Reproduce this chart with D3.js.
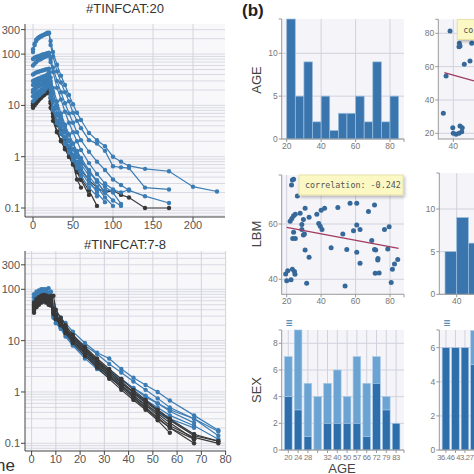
<!DOCTYPE html>
<html><head><meta charset="utf-8">
<script src="https://cdn.jsdelivr.net/npm/d3@7"></script>
<style>html,body{margin:0;padding:0;background:#fff;overflow:hidden}</style>
</head><body><svg id="c" width="474" height="474" font-family="Liberation Sans, Arial, sans-serif"></svg>
<script>
// ---------- DATA ----------
const pk20Times = [0,2,4,6,8,10,12,14,16,18,20,22,25,30,35,40,45,50,55,60,70,80,90,100,110,120,140,170,200,230];
const pk20Blue = [
 [110,150,180,200,210,220,230,240,250,260,262,180,110,62,38,25,16,10.5,7.2,5.2,2.9,2.1,1.6,1.0,0.8,0.66,0.58,0.52,0.26,0.21],
 [125,160,190,205,215,225,232,238,245,250,255,150,90,46,28,18,12,7.2,5,3.6,2.1,1.8,1.3,0.65,0.62,0.6,0.25,0.23],
 [80,85,88,90,92,95,98,100,102,104,106,80,55,30,18,11,7,4.6,3,2.1,1.25,0.8,0.55,0.36,0.28,0.22,0.17,0.125],
 [60,65,70,75,78,80,84,88,90,92,95,70,45,22,13,7.5,4.6,3,2,1.35,0.75,0.46,0.3,0.23,0.2,0.23],
 [40,42,44,45,46,47,48,49,50,51,52,35,22,12,7,4.2,2.7,1.8,1.2,0.85,0.52,0.32,0.2,0.14,0.11],
 [30,31,32,33,34,35,36,37,38,39,40,27,17,9,5.5,3.3,2.1,1.4,1,0.72,0.42,0.26,0.16,0.11],
 [25,26,27,28,29,30,31,32,33,34,35,22,13,6.5,3.8,2.4,1.6,1.1,0.8,0.6,0.35,0.2,0.13],
 [20,21,22,23,24,25,26,27,28,29,30,20,12,7,4.5,3,2,1.4,1,0.8,0.5,0.35,0.26,0.2,0.12],
 [15,16,17,18,19,20,21,22,24,26,28,16,9,5,3,1.9,1.3,0.95,0.7,0.5,0.3,0.22,0.22,0.22],
 [12,13,14,15,16,17,18,19,21,23,25,14,8,4.5,2.8,1.8,1.2,0.85,0.6,0.42,0.25,0.17],
 [18,20,22,24,26,28,30,33,36,40,45,30,18,10,6,4,2.7,1.8,1.3,0.95,0.55,0.33,0.2]
];
const pk20Dark = [
 [10,11,12,13,14,15,16,17,18,20,22,12,7,4.2,2.8,1.9,1.2,0.8,0.55,0.38,0.22,0.11],
 [10,11,12,13,14,15,16,17,18,19,20,11,6,3.1,2.1,1.5,1.0,0.75,0.36,0.25],
 [11,12,13,14,15,16,17,18,19,20,22,14,8,5,3.2,2.1,1.5,1.0,0.75,0.55,0.35,0.25,0.2,0.22,0.18,0.16,0.1,0.1],
 [9,10,11,12,13,14,15,16,17,17.5,18,9,5,3,2,1.4,1,0.7,0.5,0.35,0.18]
];
const pk78Times = [1,2,3,4,5,6,7,8,9,10,12,14,17,22,27,32,37,42,47,52,57,67,77];
const pk78Blue = [
 [80,90,95,100,98,100,105,90,50,35,28,22,15,9,5.8,4.5,2.8,1.9,1.37,1.0,0.68,0.35,0.18],
 [60,70,80,85,90,95,80,70,40,30,24,18,12,8,5.5,3.5,2.4,1.6,1.1,0.75,0.5,0.3,0.17],
 [50,60,70,80,85,70,60,50,35,26,20,16,11,6.5,4,2.6,1.8,1.2,0.8,0.6,0.45,0.3,0.14],
 [45,55,65,75,80,75,70,60,30,22,18,14,9.5,5.5,3.5,2.3,1.5,1.0,0.7,0.5,0.35,0.22,0.12],
 [70,80,90,95,100,95,85,75,45,28,20,15,10,6,3.8,2.5,1.7,1.2,0.85,0.6,0.42,0.25],
 [55,65,75,80,85,80,70,60,32,25,18,13,8.5,5,3.2,2,1.3,0.9,0.65,0.45,0.3,0.2],
 [40,50,60,70,75,70,60,50,28,22,17,12,8,4.5,2.8,1.9,1.3,0.85,0.55,0.4,0.28,0.15]
];
const pk78Dark = [
 [35,45,55,60,65,70,72,74,75,40,28,20,13,7.5,4.5,2.8,1.8,1.1,0.7,0.45,0.3,0.15,0.11],
 [45,50,55,60,62,60,58,55,40,30,22,17,12,7,4,2.4,1.5,0.95,0.6,0.38,0.25,0.12],
 [38,45,50,55,58,55,50,48,35,27,21,15,10,5.5,3.2,2,1.2,0.75,0.48,0.3,0.2,0.1],
 [50,60,65,70,72,70,65,60,38,30,23,17,11,6.5,3.8,2.2,1.4,0.85,0.55,0.35,0.22,0.13,0.1],
 [42,48,52,58,60,58,55,50,33,26,20,14,9,5,3,1.8,1.1,0.7,0.45,0.28,0.16],
 [55,65,70,75,78,76,72,68,42,32,24,18,12,7,4.2,2.6,1.6,1.0,0.65,0.42,0.28,0.14,0.11],
 [48,55,60,65,68,66,62,58,36,28,21,16,10,6,3.5,2.1,1.3,0.8,0.5,0.32,0.2,0.12]
];
const logTicks = [0.1,1,10,100,300];
const pk20XTicks = [0,50,100,150,200];
const pk78XTicks = [0,10,20,30,40,50,60,70,80];

const ageBins = [20,25,30,35,40,45,50,55,60,65,70,75,80];
const ageCounts = [14,5,9,2,5,1,3,3,5,2,9,2,5];
const ageTicks = [20,40,60,80];
const histYTicks = [0,5,10];

const lbmAge = [23.3,24,22.8,26.2,22,23,24,25,24,23.5,25,27.8,28.8,29.7,30.7,28.8,29.7,30.3,30.7,33,31.6,33,37.5,40,42,38.6,39.5,40.5,45.8,49.7,52.6,54.9,53.9,56.8,60.7,58.8,60.7,62.6,60.7,62.6,67.5,71,69.4,71,71.7,72.9,73,71.4,73.7,76.8,79.5,78.7,80.7,81.4,82.6,84.5,19.4,20.6,20,22.5,23.3,24.5,24.8];
const lbmVal = [75.9,76.2,74.1,70.1,61,62,63,63.5,57,54.8,54.8,63.9,59.8,61.6,65.7,58,56,56.4,50.6,48,38.6,62.4,63.5,65,65.7,60.2,59.2,58,51.4,66,56.4,50.8,37.6,67.5,67.5,57.6,59.6,58,49.8,45.8,64.5,66.9,54,50.8,50.6,47,47.5,42.2,42.3,58,59,51,38.8,43.6,45.5,47.2,41.9,43.1,39.5,39.8,43.6,42.8,41.8];
const lbmReg = [[20,58.8],[85,51.2]];
const lbmYTicks = [40,60];
const corrText = "correlation: -0.242";

const sexLabels = ["20","24","28","","32","40","50","57","66","72","79","83"];
const sexDark = [4,3,1,0,2,2,2,2,1,5,3,2];
const sexTotal = [7,9,5,4,5,6,4,7,5,7,4,2];
const sexYTicks = [0,2,4,6,8];

const sc2X = [38.1,43.5,43.9,43.3,50.7,46.4,49.7,35.8,34.2,39.7,40,43.9,45.2,43.3,44.9,41.6];
const sc2Y = [81.4,74,72.4,72,74,61.4,63.4,54.4,32,23.4,20,24.4,23.4,20,21,19.4];
const sc2Reg = [[34.8,56.4],[52,51.4]];
const sc2YTicks = [20,40,60,80];
const sc2XTicks = [40];
const hist2Bins = [35,40,45];
const hist2Counts = [5,9,6];
const hist2XTicks = [40];
const bar2Labels = ["36.46","","43.27",""];
const bar2Dark = [6,6,6,5];
const bar2Total = [6,6,6,7];
const bar2YTicks = [0,2,4,6];

// ---------- DRAW ----------
const svg = d3.select('#c');
svg.append('rect').attr('width',474).attr('height',474).attr('fill','#fff');
const defs = svg.append('defs');
const f = defs.append('filter').attr('id','sh').attr('x','-10%').attr('y','-20%').attr('width','130%').attr('height','160%');
f.append('feDropShadow').attr('dx',1.5).attr('dy',2).attr('stdDeviation',1.5).attr('flood-color','#000').attr('flood-opacity',0.25);

const BLUE='#3b7cb4', DARK='#383838';

function drawPK(g, c){
  const x = d3.scaleLinear().domain(c.xd).range(c.xr);
  const y = d3.scaleLog().domain([0.1,100]).range([c.y01, c.y100]);
  g.append('rect').attr('x',c.L).attr('y',c.T).attr('width',c.R-c.L).attr('height',c.B-c.T).attr('fill','#f8f8fb');
  const hv=[]; [0.01,0.1,1,10,100].forEach(d=>{for(let k=1;k<10;k++){const v=k*d; const p=y(v); if(p>=c.T && p<=c.B) hv.push(v);}});
  g.selectAll(null).data(hv).enter().append('line').attr('x1',c.L).attr('x2',c.R).attr('y1',d=>y(d)).attr('y2',d=>y(d)).attr('stroke','#d9d9e3').attr('stroke-width',1);
  g.selectAll(null).data(c.xt).enter().append('line').attr('x1',d=>x(d)).attr('x2',d=>x(d)).attr('y1',c.T).attr('y2',c.B).attr('stroke','#d3d3dd').attr('stroke-width',1);
  const line = d3.line().x((v,i)=>x(c.times[i])).y(v=>y(v));
  c.groups.forEach(gr=>{
    gr.data.forEach(s=>{
      g.append('path').attr('d',line(s)).attr('fill','none').attr('stroke',gr.color).attr('stroke-width',1.2);
      g.selectAll(null).data(s).enter().append('circle').attr('cx',(v,i)=>x(c.times[i])).attr('cy',v=>y(v)).attr('r',2.2).attr('fill',gr.color);
    });
  });
  g.append('line').attr('x1',c.L).attr('x2',c.L).attr('y1',c.T).attr('y2',c.B).attr('stroke','#444');
  g.append('line').attr('x1',c.L).attr('x2',c.R).attr('y1',c.B).attr('y2',c.B).attr('stroke','#444');
  g.selectAll(null).data(logTicks).enter().append('line').attr('x1',c.L-4).attr('x2',c.L).attr('y1',d=>y(d)).attr('y2',d=>y(d)).attr('stroke','#444');
  g.selectAll(null).data(logTicks).enter().append('text').attr('x',c.L-5).attr('y',d=>y(d)+4).attr('text-anchor','end').attr('font-size',11).attr('fill','#555').text(d=>d);
  g.selectAll(null).data(c.xt).enter().append('line').attr('x1',d=>x(d)).attr('x2',d=>x(d)).attr('y1',c.B).attr('y2',c.B+4).attr('stroke','#444');
  g.selectAll(null).data(c.xt).enter().append('text').attr('x',d=>x(d)).attr('y',c.B+12).attr('text-anchor','middle').attr('font-size',11).attr('fill','#555').text(d=>d);
  g.append('text').attr('x',125).attr('y',c.titleY).attr('text-anchor','middle').attr('font-size',13).attr('fill','#333').text(c.title);
}

drawPK(svg.append('g'), {L:25,R:225,T:24,B:217,xd:[0,200],xr:[33,193],y01:208,y100:54.1,xt:pk20XTicks,times:pk20Times,
  groups:[{data:pk20Dark,color:DARK},{data:pk20Blue,color:BLUE}], title:'#TINFCAT:20', titleY:13});
drawPK(svg.append('g'), {L:25,R:226,T:251,B:451,xd:[0,80],xr:[31.6,225.6],y01:443.3,y100:289.3,xt:pk78XTicks,times:pk78Times,
  groups:[{data:pk78Blue,color:BLUE},{data:pk78Dark,color:DARK}], title:'#TINFCAT:7-8', titleY:249});
svg.append('text').attr('x',15).attr('y',471).attr('text-anchor','end').attr('font-size',17).attr('fill','#333').text('Time');

svg.append('text').attr('x',242).attr('y',16).attr('font-size',17).attr('font-weight','bold').attr('fill','#222').text('(b)');

function frame(g,L,R,T,B,xs,xt,ys,yt){
  g.append('rect').attr('x',L).attr('y',T).attr('width',R-L).attr('height',B-T).attr('fill','#f4f4f9');
  g.selectAll(null).data(yt).enter().append('line').attr('x1',L).attr('x2',R).attr('y1',d=>ys(d)).attr('y2',d=>ys(d)).attr('stroke','#d2d2de');
  g.selectAll(null).data(xt).enter().append('line').attr('x1',d=>xs(d)).attr('x2',d=>xs(d)).attr('y1',T).attr('y2',B).attr('stroke','#d2d2de');
}
function axes(g,L,R,T,B,xs,xt,xl,ys,yt,xfs){
  g.append('line').attr('x1',L).attr('x2',L).attr('y1',T).attr('y2',B+0.5).attr('stroke','#999');
  g.append('line').attr('x1',L).attr('x2',R).attr('y1',B).attr('y2',B).attr('stroke','#999');
  g.append('line').attr('x1',L-3).attr('x2',L).attr('y1',T).attr('y2',T).attr('stroke','#999');
  g.append('line').attr('x1',R).attr('x2',R).attr('y1',B).attr('y2',B+3).attr('stroke','#999');
  g.selectAll(null).data(yt).enter().append('line').attr('x1',L-3).attr('x2',L).attr('y1',d=>ys(d)).attr('y2',d=>ys(d)).attr('stroke','#999');
  g.selectAll(null).data(yt).enter().append('text').attr('x',L-4).attr('y',d=>ys(d)+3).attr('text-anchor','end').attr('font-size',8.5).attr('fill','#777').text(d=>d);
  g.selectAll(null).data(xt).enter().append('line').attr('x1',d=>xs(d)).attr('x2',d=>xs(d)).attr('y1',B).attr('y2',B+3).attr('stroke','#999');
  g.selectAll(null).data(xt).enter().append('text').attr('x',d=>xs(d)).attr('y',B+9.5).attr('text-anchor','middle').attr('font-size',xfs||8.5).attr('fill','#777').attr('letter-spacing',xfs?-0.3:0).text((d,i)=>xl?xl[i]:d);
}
function tooltip(g,x,y,w,h,txt){
  g.append('rect').attr('x',x).attr('y',y).attr('width',w).attr('height',h).attr('fill','#fbf8c4').attr('stroke','#e8e2a8').attr('filter','url(#sh)');
  g.append('text').attr('x',x+6).attr('y',y+h/2+3).attr('font-family','DejaVu Sans Mono, Liberation Mono, monospace').attr('font-size',8.4).attr('fill','#555').text(txt);
}
const HB='#3a75ad', SD='#2d6eab', SL='#6ba4d3', DOT='#36699a', REG='#a23a5e';

// Row1 col1: AGE hist
{const g=svg.append('g'); const L=281.7,R=404,T=19,B=139;
 const x=d3.scaleLinear().domain([20,80]).range([286.7,390]); const y=d3.scaleLinear().domain([0,10]).range([139,53.3]);
 frame(g,L,R,T,B,x,ageTicks,y,histYTicks);
 g.selectAll(null).data(ageBins).enter().append('rect').attr('x',d=>x(d)).attr('width',d=>x(d+5)-x(d)).attr('y',(d,i)=>y(ageCounts[i])).attr('height',(d,i)=>y(0)-y(ageCounts[i])).attr('fill',HB).attr('stroke','#9cc0e0').attr('stroke-width',0.7);
 axes(g,L,R,T,B,x,ageTicks,null,y,histYTicks);
 g.append('text').attr('transform','translate(261,80) rotate(-90)').attr('text-anchor','middle').attr('font-size',13).attr('fill','#444').text('AGE');}

// Row2 col1: LBM scatter
{const g=svg.append('g'); const L=281.7,R=404,T=175,B=294.3;
 const x=d3.scaleLinear().domain([20,80]).range([286.7,390]); const y=d3.scaleLinear().domain([40,60]).range([279.3,224]);
 frame(g,L,R,T,B,x,ageTicks,y,lbmYTicks);
 g.selectAll(null).data(lbmAge).enter().append('circle').attr('cx',d=>x(d)).attr('cy',(d,i)=>y(lbmVal[i])).attr('r',2.5).attr('fill',DOT);
 g.append('line').attr('x1',x(lbmReg[0][0])).attr('y1',y(lbmReg[0][1])).attr('x2',x(lbmReg[1][0])).attr('y2',y(lbmReg[1][1])).attr('stroke',REG).attr('stroke-width',1.3);
 axes(g,L,R,T,B,x,ageTicks,null,y,lbmYTicks);
 tooltip(g,299,175,104,20,corrText);
 g.append('text').attr('transform','translate(261,234) rotate(-90)').attr('text-anchor','middle').attr('font-size',13).attr('fill','#444').text('LBM');}

// Row3 col1: SEX stacked
{const g=svg.append('g'); const L=281.7,R=404,T=330,B=450;
 const idx=d3.range(sexLabels.length);
 const x=d3.scaleBand().domain(idx).range([283.4,401]).paddingInner(0.22).paddingOuter(0.11);
 const y=d3.scaleLinear().domain([0,8]).range([450,343.3]);
 const xc=d=>x(d)+x.bandwidth()/2;
 g.append('rect').attr('x',L).attr('y',T).attr('width',R-L).attr('height',B-T).attr('fill','#f4f4f9');
 g.selectAll(null).data(sexYTicks).enter().append('line').attr('x1',L).attr('x2',R).attr('y1',d=>y(d)).attr('y2',d=>y(d)).attr('stroke','#d2d2de');
 g.selectAll(null).data(idx).enter().append('line').attr('x1',xc).attr('x2',xc).attr('y1',T).attr('y2',B).attr('stroke','#d2d2de');
 g.selectAll(null).data(idx).enter().append('rect').attr('x',d=>x(d)).attr('width',x.bandwidth()).attr('y',d=>y(sexTotal[d])).attr('height',d=>y(sexDark[d])-y(sexTotal[d])).attr('fill',SL).attr('stroke','#a9cbe8').attr('stroke-width',0.6);
 g.selectAll(null).data(idx).enter().append('rect').attr('x',d=>x(d)).attr('width',x.bandwidth()).attr('y',d=>y(sexDark[d])).attr('height',d=>y(0)-y(sexDark[d])).attr('fill',SD).attr('stroke','#a9cbe8').attr('stroke-width',0.6);
 axes(g,L,R,T,B,xc,idx,sexLabels,y,sexYTicks,7.6);
 g.append('text').attr('transform','translate(261,390) rotate(-90)').attr('text-anchor','middle').attr('font-size',13).attr('fill','#444').text('SEX');
 g.append('text').attr('x',342).attr('y',472.5).attr('text-anchor','middle').attr('font-size',13).attr('fill','#444').text('AGE');
 g.append('text').attr('x',289).attr('y',327).attr('text-anchor','middle').attr('font-size',12).attr('fill',HB).text('≡');}

// Row1 col2: scatter (clipped)
{const g=svg.append('g'); const L=438.3,R=520,T=19.3,B=139;
 const x=d3.scaleLinear().domain([40,60]).range([453.3,487.7]); const y=d3.scaleLinear().domain([20,80]).range([133.3,33.3]);
 frame(g,L,R,T,B,x,sc2XTicks,y,sc2YTicks);
 g.selectAll(null).data(sc2X).enter().append('circle').attr('cx',d=>x(d)).attr('cy',(d,i)=>y(sc2Y[i])).attr('r',2.5).attr('fill',DOT);
 g.append('line').attr('x1',x(sc2Reg[0][0])).attr('y1',y(sc2Reg[0][1])).attr('x2',x(sc2Reg[1][0])).attr('y2',y(sc2Reg[1][1])).attr('stroke',REG).attr('stroke-width',1.3);
 axes(g,L,R,T,B,x,sc2XTicks,null,y,sc2YTicks);
 tooltip(g,457.3,19.5,60,20,'co:');}

// Row2 col2: hist (clipped)
{const g=svg.append('g'); const L=439.3,R=520,T=173,B=294.3;
 const x=d3.scaleLinear().domain([35,40]).range([445,456.7]); const y=d3.scaleLinear().domain([0,10]).range([294.3,209]);
 frame(g,L,R,T,B,x,hist2XTicks,y,histYTicks);
 g.selectAll(null).data(hist2Bins).enter().append('rect').attr('x',d=>x(d)).attr('width',d=>x(d+5)-x(d)).attr('y',(d,i)=>y(hist2Counts[i])).attr('height',(d,i)=>y(0)-y(hist2Counts[i])).attr('fill',HB).attr('stroke','#9cc0e0').attr('stroke-width',0.7);
 axes(g,L,R,T,B,x,hist2XTicks,null,y,histYTicks);}

// Row3 col2: stacked (clipped)
{const g=svg.append('g'); const L=439.3,R=520,T=330,B=450;
 const idx=d3.range(bar2Labels.length);
 const x=d3.scaleBand().domain(idx).range([441.2,479.2]).paddingInner(0.2).paddingOuter(0.1);
 const y=d3.scaleLinear().domain([0,6]).range([450,347.7]);
 const xc=d=>x(d)+x.bandwidth()/2;
 g.append('rect').attr('x',L).attr('y',T).attr('width',R-L).attr('height',B-T).attr('fill','#f4f4f9');
 g.selectAll(null).data(bar2YTicks).enter().append('line').attr('x1',L).attr('x2',R).attr('y1',d=>y(d)).attr('y2',d=>y(d)).attr('stroke','#d2d2de');
 g.selectAll(null).data(idx).enter().append('line').attr('x1',xc).attr('x2',xc).attr('y1',T).attr('y2',B).attr('stroke','#d2d2de');
 g.selectAll(null).data(idx).enter().append('rect').attr('x',d=>x(d)).attr('width',x.bandwidth()).attr('y',d=>y(bar2Total[d])).attr('height',d=>y(bar2Dark[d])-y(bar2Total[d])).attr('fill',SL).attr('stroke','#a9cbe8').attr('stroke-width',0.6);
 g.selectAll(null).data(idx).enter().append('rect').attr('x',d=>x(d)).attr('width',x.bandwidth()).attr('y',d=>y(bar2Dark[d])).attr('height',d=>y(0)-y(bar2Dark[d])).attr('fill',SD).attr('stroke','#a9cbe8').attr('stroke-width',0.6);
 axes(g,L,R,T,B,xc,idx,bar2Labels,y,bar2YTicks,7.6);
 g.append('text').attr('x',446.7).attr('y',327).attr('text-anchor','middle').attr('font-size',12).attr('fill',HB).text('≡');}
</script></body></html>
